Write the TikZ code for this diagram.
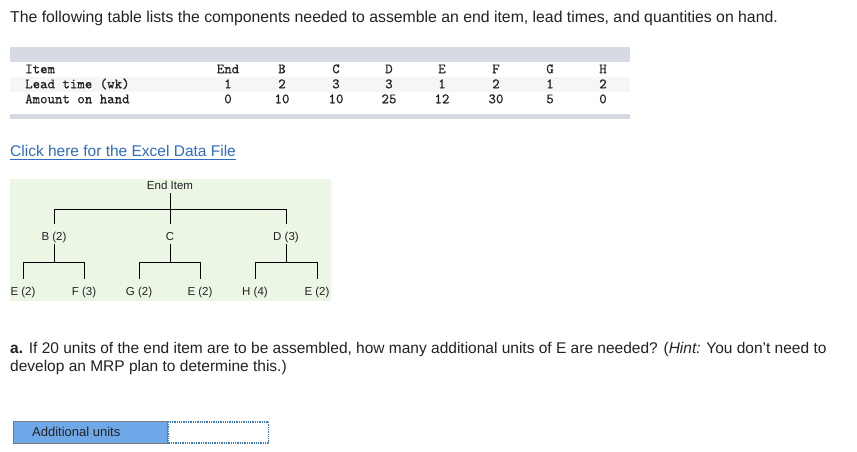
\documentclass[tikz,border=0pt]{standalone}
\usepackage{fontspec}
\setmainfont{Liberation Sans}
\newfontfamily\cellfont{lmmono10-regular.otf}[FakeBold=0.7]
\definecolor{bargrey}{RGB}{214,218,227}
\definecolor{rowgrey}{RGB}{246,246,246}
\definecolor{treegreen}{RGB}{235,246,229}
\definecolor{linkblue}{RGB}{45,108,192}
\definecolor{btnblue}{RGB}{111,168,232}
\definecolor{btnborder}{RGB}{122,122,122}
\definecolor{dotblue}{RGB}{58,120,200}
\definecolor{txt}{RGB}{34,34,34}
\tikzset{
  body/.style={font=\fontsize{15.8}{19}\selectfont, text=txt, inner sep=0pt},
  cell/.style={font=\cellfont\fontsize{14.2}{15}\selectfont, text=txt, inner sep=0pt, text height=8pt, text depth=1.5pt},
  tlabel/.style={font=\fontsize{11.5}{13}\selectfont, text=txt, inner xsep=1pt, inner ysep=2pt, text height=8pt, text depth=2pt},
  tline/.style={draw=black, line width=0.8pt},
}
\begin{document}
\begin{tikzpicture}[x=1pt,y=-1pt]
\useasboundingbox[fill=white] (0,0) rectangle (857,452);
% title
\node[body, anchor=west] (title) at (10,18) {The following table lists the components needed to assemble an end item, lead times, and quantities on hand.};
% table backgrounds
\fill[bargrey] (10,47) rectangle (630,62);
\fill[rowgrey] (10,77) rectangle (630,92);
\fill[bargrey] (10,114) rectangle (630,119);
% table row labels
\node[cell, anchor=west] (r1) at (25,70) {Item};
\node[cell, anchor=west] (r2) at (25,85) {Lead time (wk)};
\node[cell, anchor=west] (r3) at (25,100) {Amount on hand};
% table columns
\foreach \x/\n/\a/\b/\c in {228/end/End/1/0, 282/b/B/2/10, 336/c/C/3/10, 389/d/D/3/25, 442/e/E/1/12, 496/f/F/2/30, 550/g/G/1/5, 603/h/H/2/0}{
  \node[cell] (i\n) at (\x,70) {\a};
  \node[cell] (l\n) at (\x,85) {\b};
  \node[cell] (q\n) at (\x,100) {\c};
}
% link
\node[body, anchor=west, text=linkblue, font=\fontsize{15.5}{19}\selectfont] (link) at (10,151) {Click here for the Excel Data File};
\draw[linkblue, line width=0.7pt] ([yshift=-2pt]link.south west) -- ([yshift=-2pt]link.south east);
% product tree
\fill[treegreen] (10,179) rectangle (331,301);
\node[tlabel] (top) at (170,186) {End Item};
\node[tlabel] (B) at (54,237) {B (2)};
\node[tlabel] (C) at (170,237) {C};
\node[tlabel] (D) at (286,237) {D (3)};
\node[tlabel] (E1) at (23,292) {E (2)};
\node[tlabel] (F) at (84,292) {F (3)};
\node[tlabel] (G) at (139,292) {G (2)};
\node[tlabel] (E2) at (200,292) {E (2)};
\node[tlabel] (H) at (255,292) {H (4)};
\node[tlabel] (E3) at (317,292) {E (2)};
\coordinate (j0) at (170,209);
\coordinate (jB) at (54,262);
\coordinate (jC) at (170,262);
\coordinate (jD) at (286,262);
\draw[tline] (top.south) -- (j0);
\draw[tline] (j0) -| ([yshift=6pt]B.north);
\draw[tline] (j0) -- ([yshift=6pt]C.north);
\draw[tline] (j0) -| ([yshift=6pt]D.north);
\draw[tline] (B.south) -- (jB);
\draw[tline] (jB) -| ([yshift=6pt]E1.north);
\draw[tline] (jB) -| ([yshift=6pt]F.north);
\draw[tline] (C.south) -- (jC);
\draw[tline] (jC) -| ([yshift=6pt]G.north);
\draw[tline] (jC) -| ([yshift=6pt]E2.north);
\draw[tline] (D.south) -- (jD);
\draw[tline] (jD) -| ([yshift=6pt]H.north);
\draw[tline] (jD) -| ([yshift=6pt]E3.north);
% question
\node[body, anchor=north west, align=left, font=\fontsize{15.5}{18}\selectfont] (q) at (10,342) {\textbf{a.} If 20 units of the end item are to be assembled, how many additional units of E are needed? (\textit{Hint:} You don't need to\\develop an MRP plan to determine this.)};
% answer row
\node[draw=btnborder, fill=btnblue, line width=0.8pt, minimum width=154pt, minimum height=22pt, inner sep=0pt, anchor=north west] (lbl) at (13,421) {};
\node[font=\fontsize{13}{15}\selectfont, text=txt, anchor=west, inner sep=0pt] (lbltext) at (32,432) {Additional units};
\node[draw=dotblue, densely dotted, line width=1.3pt, minimum width=100pt, minimum height=21pt, inner sep=0pt, anchor=west] (ans) at (lbl.east) {};
\end{tikzpicture}
\end{document}
